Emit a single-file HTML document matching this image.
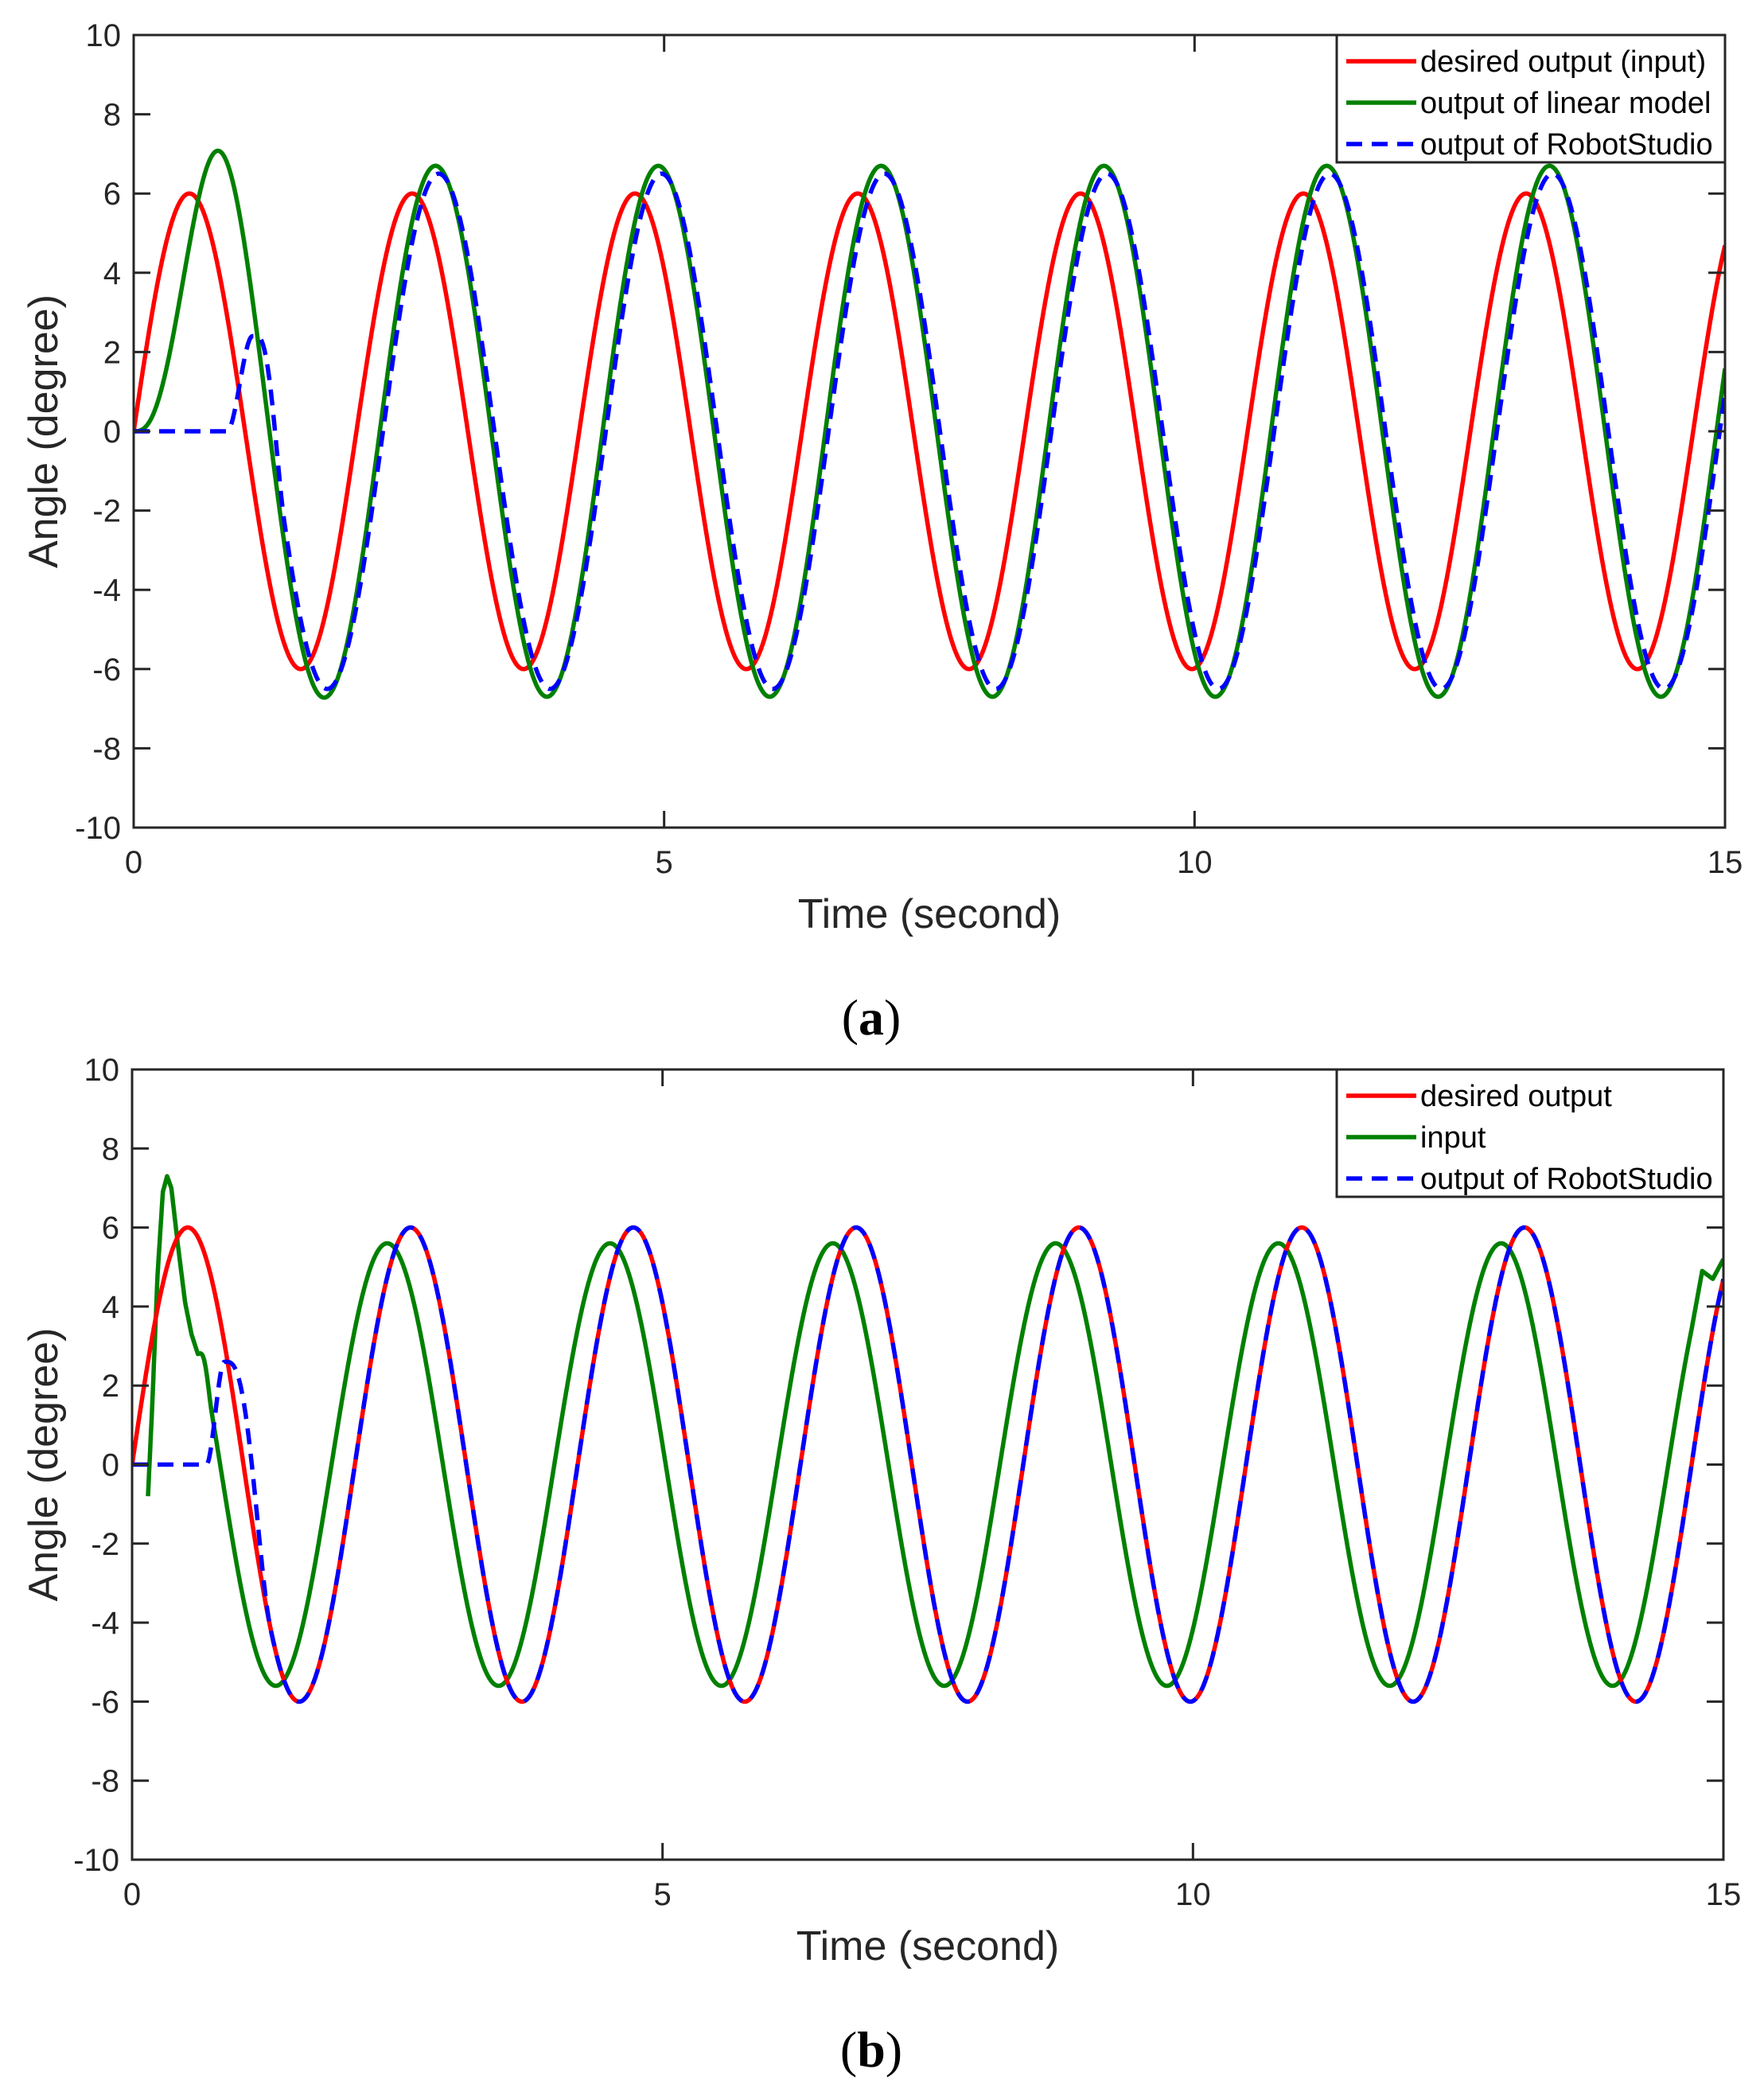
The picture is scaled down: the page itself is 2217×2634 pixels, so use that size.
<!DOCTYPE html>
<html><head><meta charset="utf-8"><style>
html,body{margin:0;padding:0;background:#fff;}
svg{display:block;}
text{font-family:"Liberation Sans",sans-serif;fill:#262626;}
</style></head><body>
<svg id="s" width="2217" height="2634" viewBox="0 0 2217 2634" xmlns="http://www.w3.org/2000/svg">
<rect width="2217" height="2634" fill="#fff"/>
<g id="g"></g>
</svg>
<script>
const NS="http://www.w3.org/2000/svg";
const G=document.getElementById('g');
function el(t,a,txt){const e=document.createElementNS(NS,t);for(const k in a)e.setAttribute(k,a[k]);if(txt!==undefined)e.textContent=txt;G.appendChild(e);return e;}
const T=2.1,W=2*Math.PI/T;
function sm(x){x=Math.max(0,Math.min(1,x));return x*x*(3-2*x);}
function interp(pts,t){for(let i=0;i<pts.length-1;i++){if(t>=pts[i][0]&&t<=pts[i+1][0]){const f=(t-pts[i][0])/(pts[i+1][0]-pts[i][0]);return pts[i][1]+(pts[i+1][1]-pts[i][1])*f;}}return null;}
const wn=5.53,z=0.507,dt=0.001;
const gA=[];{let x=0,v=0;for(let i=0;i<=15000;i++){const t=i*dt;gA.push(x);const u=6*Math.sin(W*t);const a=wn*wn*(u-x)-2*z*wn*v;v+=a*dt;x+=v*dt;}}
function plot(L,Tp,R,B,series,legend,label){
  const X=t=>L+(R-L)*t/15, Y=v=>B-(B-Tp)*(v+10)/20;
  const id='c'+Tp;
  const cp=el('clipPath',{id:id});const r=document.createElementNS(NS,'rect');r.setAttribute('x',L);r.setAttribute('y',Tp);r.setAttribute('width',R-L);r.setAttribute('height',B-Tp);cp.appendChild(r);
  for(const s of series){
    let d='';let pen=false;
    for(let i=0;i<=3000;i++){const t=i*0.005;const v=s.f(t);if(v===null){pen=false;continue;}d+=(pen?'L':'M')+X(t).toFixed(1)+' '+Y(v).toFixed(1);pen=true;}
    const a={d:d,fill:'none',stroke:s.c,'stroke-width':5.5,'stroke-linejoin':'round','clip-path':'url(#'+id+')'};
    if(s.dash)a['stroke-dasharray']='20 12';
    el('path',a);
  }
  el('rect',{x:L,y:Tp,width:R-L,height:B-Tp,fill:'none',stroke:'#262626','stroke-width':3});
  for(let v=-10;v<=10;v+=2){const y=Y(v);
    el('line',{x1:L,y1:y,x2:L+21,y2:y,stroke:'#262626','stroke-width':3});
    el('line',{x1:R,y1:y,x2:R-21,y2:y,stroke:'#262626','stroke-width':3});
    el('text',{x:L-16,y:y+14,'font-size':40,'text-anchor':'end'},String(v));}
  for(let t=0;t<=15;t+=5){const x=X(t);
    el('line',{x1:x,y1:B,x2:x,y2:B-21,stroke:'#262626','stroke-width':3});
    el('line',{x1:x,y1:Tp,x2:x,y2:Tp+21,stroke:'#262626','stroke-width':3});
    el('text',{x:x,y:B+57,'font-size':40,'text-anchor':'middle'},String(t));}
  el('text',{x:(L+R)/2,y:B+126,'font-size':52,'text-anchor':'middle'},'Time (second)');
  el('text',{x:0,y:0,'font-size':52,'text-anchor':'middle',transform:'translate(72,'+((Tp+B)/2)+') rotate(-90)'},'Angle (degree)');
  const lx=1680,lw=R-lx,lh=160;
  el('rect',{x:lx,y:Tp,width:lw,height:lh,fill:'#fff',stroke:'#262626','stroke-width':3});
  legend.forEach((s,i)=>{const y=Tp+33+i*52;
    const a={x1:lx+12,y1:y,x2:lx+100,y2:y,stroke:s.c,'stroke-width':5.5};if(s.dash)a['stroke-dasharray']='20 12';
    el('line',a);
    el('text',{x:lx+105,y:y+13,'font-size':38,style:'fill:#000'},s.n);});
  const tt=el('text',{x:1095,y:B+260,'font-size':64,'text-anchor':'middle',style:'font-family:"Liberation Serif",serif;fill:#000'});
  tt.innerHTML='(<tspan font-weight="bold">'+label+'</tspan>)';
}
const red=t=>6*Math.sin(W*t);
const greenA=t=>gA[Math.min(15000,Math.round(t/dt))]+0.75*Math.exp(-Math.pow((t-0.82)/0.3,2));
const steadyBA=t=>6.5*Math.sin(W*(t-0.25));
const blueA=t=>{if(t<0.88)return 0;if(t<1.12)return 2.4*sm((t-0.88)/0.24);if(t<1.42){const w=sm((t-1.12)/0.3);return (1-w)*2.4+w*steadyBA(t);}return steadyBA(t);};
plot(168,44,2168,1040,[{f:red,c:'#ff0000'},{f:greenA,c:'#008000'},{f:blueA,c:'#0000ff',dash:1}],
 [{n:'desired output (input)',c:'#ff0000'},{n:'output of linear model',c:'#008000'},{n:'output of RobotStudio',c:'#0000ff',dash:1}],'a');
const steadyG=t=>5.6*Math.sin(W*(t+0.22));
const gPts=[[0.15,-0.8],[0.19,1.5],[0.24,4.8],[0.29,6.9],[0.33,7.3],[0.37,7.0],[0.43,5.6],[0.5,4.1],[0.56,3.3],[0.62,2.8]];
const greenB=t=>{if(t<0.15)return null;if(t<=0.62)return interp(gPts,t);if(t<0.75){const w=sm((t-0.62)/0.13);return (1-w)*2.8+w*steadyG(t);}
 if(t>14.7){return interp([[14.7,steadyG(14.7)],[14.8,4.9],[14.9,4.7],[15,5.2]],t);}return steadyG(t);};
const blueB=t=>{if(t<0.7)return 0;if(t<0.87)return 2.6*sm((t-0.7)/0.17);if(t<1.3){const w=sm((t-0.87)/0.43);return (1-w)*2.6+w*red(t);}return red(t);};
plot(166,1344,2166,2337,[{f:greenB,c:'#008000'},{f:red,c:'#ff0000'},{f:blueB,c:'#0000ff',dash:1}],
 [{n:'desired output',c:'#ff0000'},{n:'input',c:'#008000'},{n:'output of RobotStudio',c:'#0000ff',dash:1}],'b');
</script>
</body></html>
